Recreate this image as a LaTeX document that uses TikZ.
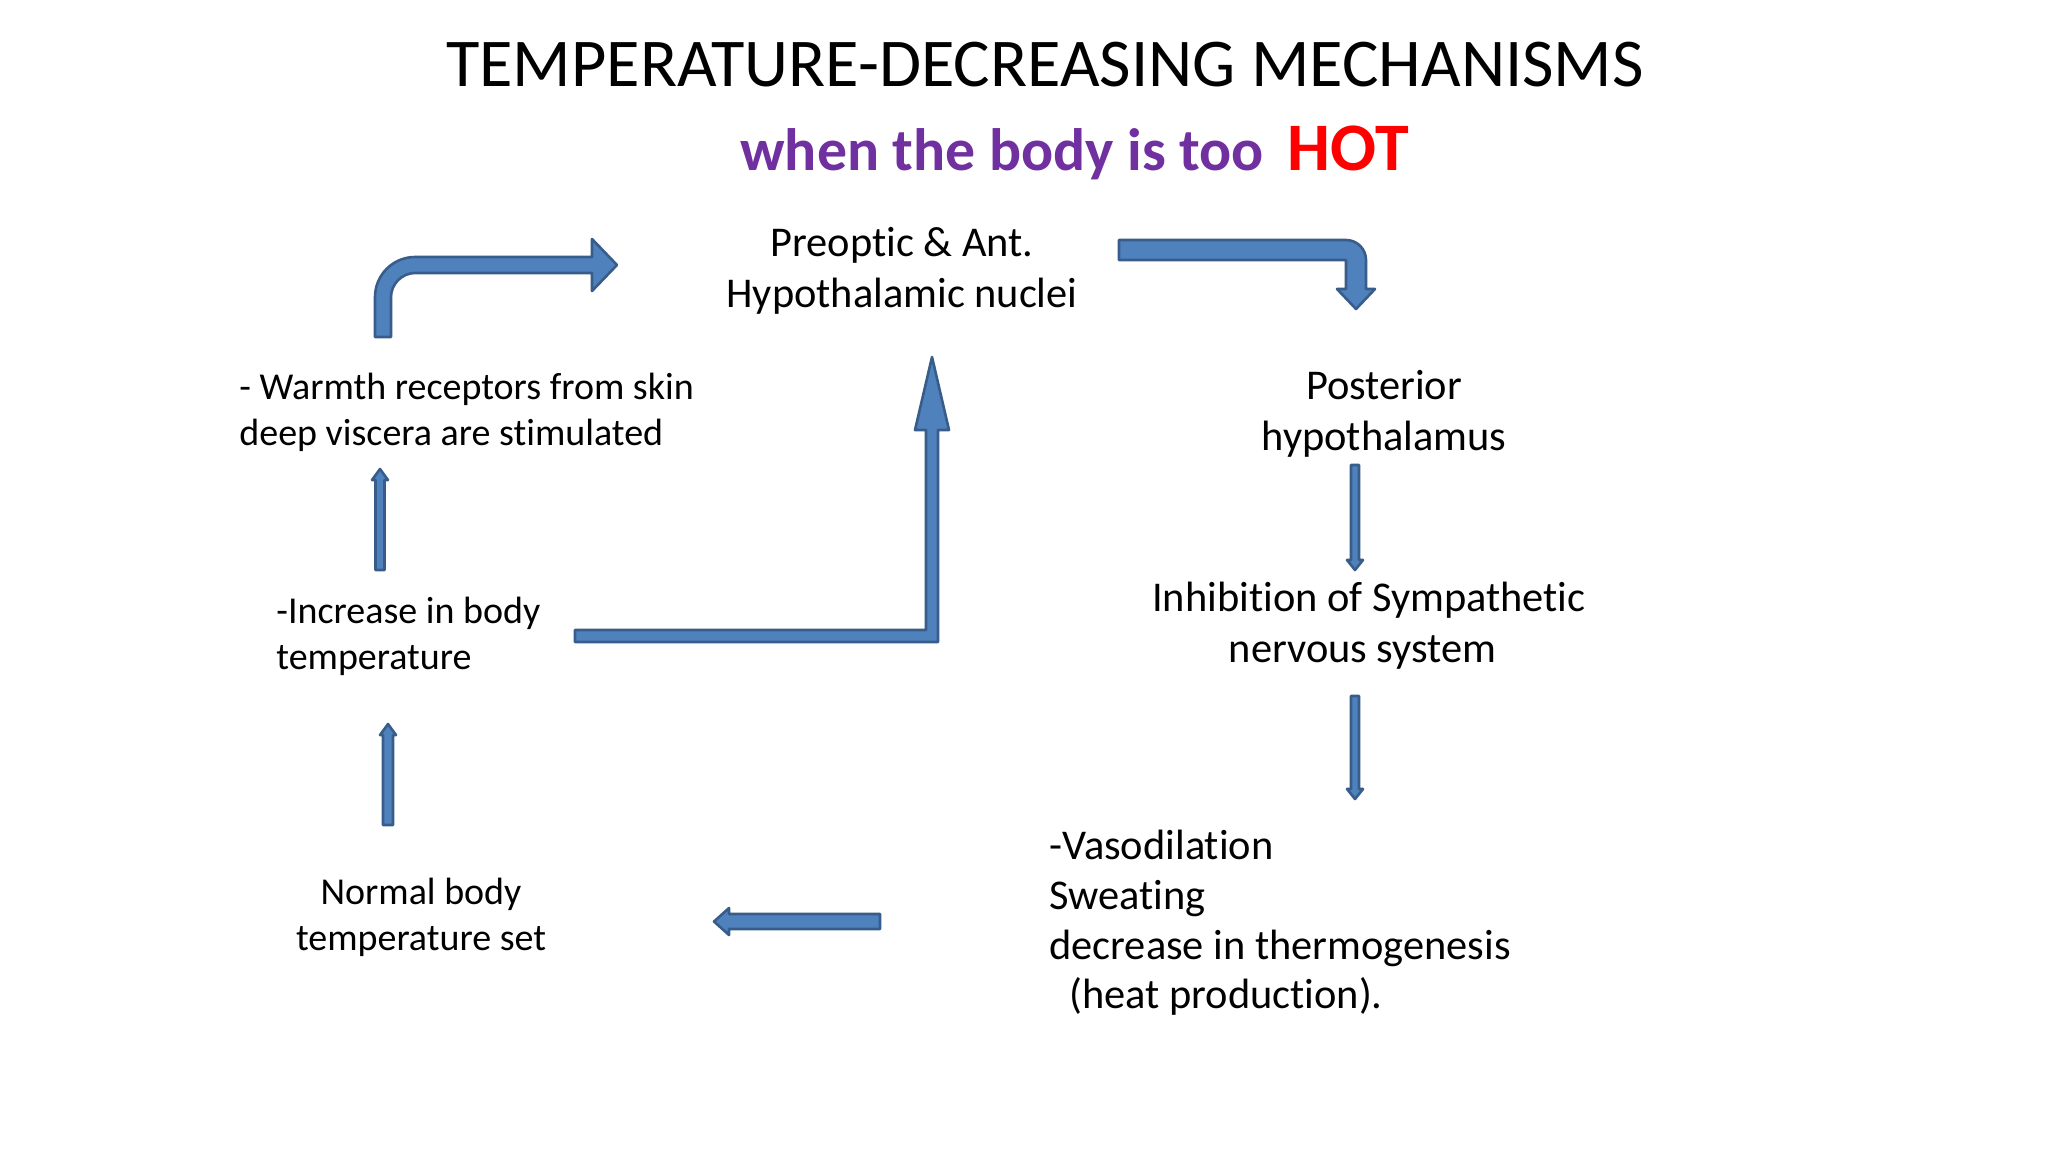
\documentclass[tikz,border=0pt]{standalone}
\usepackage{fontspec}
\setmainfont{Carlito}[Ligatures=NoCommon]
\definecolor{arrowfill}{HTML}{4F81BD}
\definecolor{arrowline}{HTML}{385D8A}
\definecolor{subpurple}{HTML}{7030A0}
\definecolor{hotred}{HTML}{FF0000}
\begin{document}
\begin{tikzpicture}[x=0.5pt,y=-0.5pt,
  blockarrow/.style={fill=arrowfill,draw=arrowline,line width=1.3pt,line join=round},
  bodytext/.style={font=\fontsize{21.2}{25.5}\selectfont,inner sep=0pt,text=black},
  lefttext/.style={font=\fontsize{19}{22.9}\selectfont,inner sep=0pt,text=black}]
\useasboundingbox[fill=white] (0,0) rectangle (2048,1152);

% titles
\node[anchor=base,inner sep=0pt,font=\fontsize{34.2}{40}\selectfont] (title) at (1045,86) {TEMPERATURE-DECREASING MECHANISMS};
\node[anchor=base west,inner sep=0pt] (sub) at (740,170)
  {\fontsize{29.9}{34}\selectfont\bfseries\color{subpurple}when the body is too\hspace{12pt}\color{hotred}\fontsize{34}{40}\selectfont HOT};

% text nodes
\node[bodytext,align=center] (poa) at (902,271) {Preoptic \& Ant.\\Hypothalamic nuclei};
\node[bodytext,align=center] (post) at (1384,414) {Posterior\\hypothalamus};
\node[bodytext,align=center] (inhib) at (1369,626) {Inhibition of Sympathetic\\\hspace*{-6.5pt}nervous system};
\node[bodytext,align=left,anchor=west,font=\fontsize{21.2}{24.8}\selectfont] (vaso) at (1049,923) {-Vasodilation\\Sweating\\decrease in thermogenesis\\\hspace*{10pt}(heat production).};
\node[lefttext,align=center] (normal) at (421,917) {Normal body\\temperature set};
\node[lefttext,align=left,anchor=west] (incr) at (276,636) {-Increase in body\\temperature};
\node[lefttext,align=left,anchor=west] (warm) at (239,412) {- Warmth receptors from skin\\deep viscera are stimulated};

% block arrows
% warmth -> preoptic (bent up-right)
\draw[blockarrow] (375,337) -- (375,297) .. controls (375,275) and (393,257) .. (415,257) -- (592,257) -- (592,239) -- (617,265) -- (592,291) -- (592,273) -- (415,273) .. controls (402,273) and (391,284) .. (391,297) -- (391,337) -- cycle;
% preoptic -> posterior (bent right-down)
\draw[blockarrow] (1119,240) -- (1346,240) .. controls (1357,240) and (1366,249) .. (1366,260) -- (1366,289) -- (1375,289) -- (1356,309) -- (1337,289) -- (1346,289) -- (1346,260) -- (1119,260) -- cycle;
% increase -> preoptic (L)
\draw[blockarrow] (575,630) -- (926,630) -- (926,430) -- (915,430) -- (932,357) -- (949,430) -- (938,430) -- (938,642) -- (575,642) -- cycle;
% increase -> warmth (small up)
\draw[blockarrow] (375.5,570) -- (375.5,480) -- (372,480) -- (380,469) -- (388,480) -- (384.5,480) -- (384.5,570) -- cycle;
% normal -> increase (small up)
\draw[blockarrow] (383,825) -- (383,735) -- (380,735) -- (388,724) -- (396,735) -- (393,735) -- (393,825) -- cycle;
% posterior -> inhibition (down)
\draw[blockarrow] (1351,465) -- (1359,465) -- (1359,560) -- (1363,560) -- (1355,570) -- (1347,560) -- (1351,560) -- cycle;
% inhibition -> vasodilation (down)
\draw[blockarrow] (1351,696) -- (1359,696) -- (1359,789) -- (1363,789) -- (1355,799) -- (1347,789) -- (1351,789) -- cycle;
% vasodilation -> normal (left)
\draw[blockarrow] (880,914) -- (729,914) -- (729,908) -- (714,921.5) -- (729,935) -- (729,929) -- (880,929) -- cycle;
\end{tikzpicture}
\end{document}
